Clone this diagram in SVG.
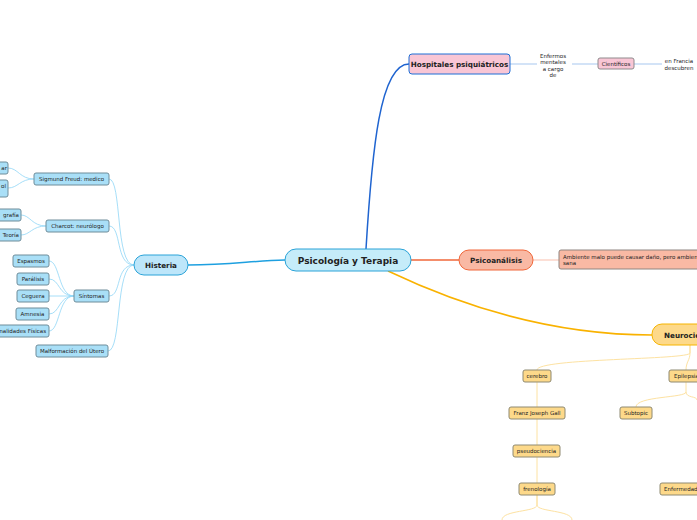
<svg xmlns="http://www.w3.org/2000/svg" width="697" height="520" viewBox="0 0 697 520">
<style>
text{font-family:"DejaVu Sans",Verdana,sans-serif;fill:#222}
.s{font-size:5.5px;text-anchor:middle}
.b{font-weight:bold;text-anchor:middle}
.hb{fill:#a9dff7;stroke:#6f8d9a;stroke-width:1}
.nb{fill:#fdd98a;stroke:#8f8a72;stroke-width:1}
.hl{fill:none;stroke:#8fd6f6;stroke-width:0.8}
.nl{fill:none;stroke:#fde2a2;stroke-width:1}
</style>
<rect width="697" height="520" fill="#fff"/>
<g id="connectors">
<path d="M366,249 C372,150 380,64 409,64" fill="none" stroke="#1f64d0" stroke-width="1.5"/>
<path d="M510,64 H537 M572,64 H598 M634,64 H662" stroke="#a8c8f0" stroke-width="1.2"/>
<path d="M411,260 H459" stroke="#f0673a" stroke-width="1.5"/>
<path d="M533,260 H559" stroke="#fbd5c8" stroke-width="1.5"/>
<path d="M388,271 C470,310 560,335 652,335" fill="none" stroke="#f9b200" stroke-width="1.5"/>
<path d="M188,265 C230,265 250,261 285,260" fill="none" stroke="#1ea0e0" stroke-width="1.5"/>
<path class="hl" d="M134,265 C115,265 122,179 109,179 M134,265 C115,265 122,226 109,226 M134,265 C115,265 122,296 109,296 M134,265 C115,265 122,351 108,351"/>
<path class="hl" d="M34,179 C20,179 18,168 8,168 M34,179 C20,179 18,188 8,188 M46,226 C32,226 30,215 21,215 M46,226 C32,226 30,235 21,235"/>
<path class="hl" d="M74,296 C58,296 60,261 49,261 M74,296 C58,296 60,279 49,279 M74,296 H49 M74,296 C58,296 60,314 49,314 M74,296 C58,296 60,331 49,331"/>
<path class="nl" d="M690,345 V353 C690,360 537,358 537,370 M690,345 V353 C690,360 686,362 686,370 M537,382 V407 M537,419 V445 M537,457 V483 M537,495 V505 C537,512 502,510 502,520 M537,495 V505 C537,512 572,510 572,520 M686,382 V392 C686,398 636,396 636,407 M686,392 C686,398 697,396 697,400"/>
</g>
<g id="central"><rect x="285" y="249" width="126" height="22" rx="11" fill="#c5ecf9" stroke="#2aa3d8"/><text x="348" y="264" class="b" font-size="9">Psicología y Terapia</text></g>
<g id="hosp"><rect x="409" y="54" width="101" height="20" rx="3" fill="#f9c6d5" stroke="#1f6fd6"/><text x="459.5" y="67" class="b" font-size="7.2">Hospitales psiquiátricos</text></g>
<g id="enf"><text class="s" x="553" y="58">Enfermos</text><text class="s" x="553" y="64">mentales</text><text class="s" x="553" y="71">a cargo</text><text class="s" x="553" y="77">de</text></g>
<g id="cient"><rect x="598" y="58" width="36" height="11" rx="2" fill="#f9c6d5" stroke="#8f8a8d"/><text class="s" x="616" y="66">Científicos</text></g>
<g id="francia"><text class="s" x="679" y="63">en Francia</text><text class="s" x="679" y="70">descubren</text></g>
<g id="psico"><rect x="459" y="250" width="74" height="20" rx="10" fill="#f9b9a4" stroke="#f0673a"/><text x="496" y="263" class="b" font-size="7.2">Psicoanálisis</text></g>
<g id="amb"><rect x="559" y="250" width="145" height="19" rx="2" fill="#f9b9a4" stroke="#8f8580"/><text x="563" y="259" font-size="5.5">Ambiente malo puede causar daño, pero ambien</text><text x="563" y="265" font-size="5.5">sana</text></g>
<g id="neuro"><rect x="652" y="324" width="60" height="21" rx="10" fill="#fdd98a" stroke="#f6b400"/><text x="664" y="338" font-size="7.2" font-weight="bold">Neurociencia</text></g>
<g id="cerebro"><rect class="nb" x="523" y="370" width="28" height="12" rx="2"/><text class="s" x="537" y="378">cerebro</text></g>
<g id="epilepsia"><rect class="nb" x="669" y="370" width="40" height="12" rx="2"/><text x="674" y="378" font-size="5.5">Epilepsia</text></g>
<g id="gall"><rect class="nb" x="509" y="407" width="56" height="12" rx="2"/><text class="s" x="537" y="415">Franz Joseph Gall</text></g>
<g id="subtopic"><rect class="nb" x="620" y="407" width="32" height="12" rx="2"/><text class="s" x="636" y="415">Subtopic</text></g>
<g id="pseudo"><rect class="nb" x="513" y="445" width="47" height="12" rx="2"/><text class="s" x="536.5" y="453">pseudociencia</text></g>
<g id="freno"><rect class="nb" x="519" y="483" width="36" height="12" rx="2"/><text class="s" x="537" y="491">frenología</text></g>
<g id="enfermedad"><rect class="nb" x="660" y="483" width="50" height="12" rx="2"/><text x="664" y="491" font-size="5.5">Enfermedad</text></g>
<g id="histeria"><rect x="134" y="255" width="54" height="20" rx="10" fill="#bde6fa" stroke="#2aa3d8"/><text x="161" y="268" class="b" font-size="7.2">Histeria</text></g>
<g id="freud"><rect class="hb" x="34" y="173" width="75" height="12" rx="2"/><text class="s" x="71.5" y="181">Sigmund Freud: medico</text></g>
<g id="charcot"><rect class="hb" x="46" y="220" width="63" height="12" rx="2"/><text class="s" x="77.5" y="228">Charcot: neurólogo</text></g>
<g id="sintomas"><rect class="hb" x="74" y="290" width="35" height="12" rx="2"/><text class="s" x="91.5" y="298">Síntomas</text></g>
<g id="utero"><rect class="hb" x="36" y="345" width="72" height="12" rx="2"/><text class="s" x="72" y="353">Malformación del Útero</text></g>
<g id="f1"><rect class="hb" x="-5" y="162" width="13" height="12" rx="2"/><text x="7" y="170" font-size="5.5" text-anchor="end">ar</text></g>
<g id="f2"><rect class="hb" x="-5" y="180" width="13" height="17" rx="2"/><text x="6" y="188" font-size="5.5" text-anchor="end">ol</text></g>
<g id="c1"><rect class="hb" x="-5" y="209" width="26" height="12" rx="2"/><text x="19" y="217" font-size="5.5" text-anchor="end">grafía</text></g>
<g id="c2"><rect class="hb" x="-5" y="229" width="26" height="12" rx="2"/><text x="19" y="237" font-size="5.5" text-anchor="end">Teoría</text></g>
<g id="espasmos"><rect class="hb" x="13" y="255" width="36" height="12" rx="2"/><text class="s" x="31" y="263">Espasmos</text></g>
<g id="paralisis"><rect class="hb" x="17" y="273" width="32" height="12" rx="2"/><text class="s" x="33" y="281">Parálisis</text></g>
<g id="ceguera"><rect class="hb" x="17" y="290" width="32" height="12" rx="2"/><text class="s" x="33" y="298">Ceguera</text></g>
<g id="amnesia"><rect class="hb" x="16" y="308" width="33" height="12" rx="2"/><text class="s" x="32.5" y="316">Amnesia</text></g>
<g id="anorm"><rect class="hb" x="-5" y="325" width="54" height="12" rx="2"/><text x="46" y="333" font-size="5.5" text-anchor="end">malidades Físicas</text></g>
</svg>
